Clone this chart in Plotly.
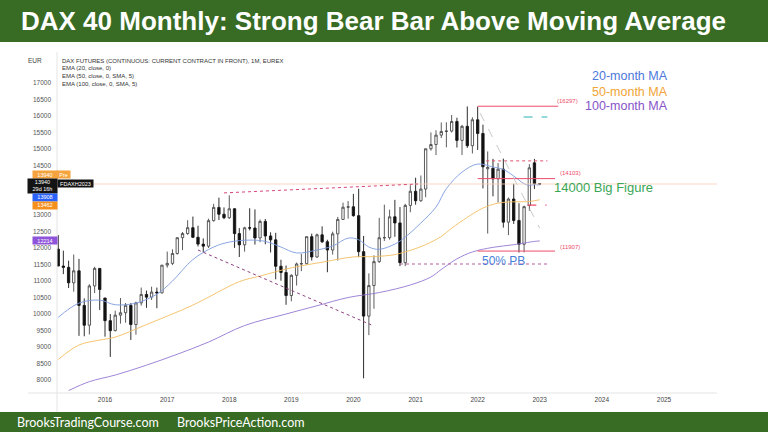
import pandas as pd
import plotly.graph_objects as go

# ---------------- data (monthly DAX futures) ----------------
months = pd.date_range("2015-04-01", "2023-01-01", freq="MS")

opens = [11966, 11454, 11414, 10945, 11309, 10259, 9660, 10850, 11382,
         10485, 9798, 9495, 9965, 10039, 10263, 9680, 10337, 10593, 10511, 10665, 10640,
         11481, 11535, 11834, 12313, 12438, 12615, 12325, 12118, 12056, 12829, 13230, 13024,
         12918, 13189, 12436, 12097, 12612, 12605, 12306, 12806, 12364, 12247, 11447, 11257,
         10559, 11173, 11516, 11526, 12344, 11727, 12399, 12189, 11939, 12428, 12866, 13236,
         13249, 12981, 11890, 9936, 10862, 11587, 12311, 12313, 12945, 12760, 11556, 13291,
         13719, 13433, 13786, 15008, 15136, 15421, 15531, 15544, 15835, 15261, 15688, 15100,
         15885, 15471, 14400, 14415, 14098, 14388, 12784, 13484, 12835, 12114, 13290, 14580,
         13945]
highs = [12391, 11920, 11617, 11802, 11670, 10473, 10902, 11430, 11384,
         10486, 9998, 10100, 10486, 10334, 10332, 10372, 10802, 10710, 10827, 10801, 11481,
         11893, 11960, 12313, 12486, 12842, 12952, 12675, 12291, 12889, 13340, 13525, 13229,
         13597, 13204, 12603, 12643, 13204, 13170, 12862, 12878, 12475, 12460, 11644, 11467,
         11205, 11557, 11823, 12344, 12435, 12438, 12656, 12250, 12494, 12942, 13374, 13425,
         13640, 13795, 12368, 11231, 11778, 12913, 13314, 13161, 13460, 13241, 13339, 13903,
         14131, 14197, 15008, 15502, 15568, 15803, 15810, 16030, 15948, 15730, 16290, 15961,
         16285, 15737, 14926, 14700, 14575, 14709, 13529, 13948, 13358, 13283, 14540, 14700,
         13965]
lows = [11453, 11209, 10787, 10677, 9338, 9325, 9379, 10636, 10123,
        9314, 8699, 9474, 9707, 9737, 9214, 9374, 10254, 10188, 10425, 10175, 10622,
        11405, 11483, 11800, 11936, 12400, 12300, 12046, 11868, 12000, 12800, 12848, 12874,
        12880, 12003, 11727, 11888, 12533, 12104, 12177, 12113, 11865, 11051, 11009, 10279,
        10386, 10863, 11299, 11500, 11620, 11700, 12152, 11266, 11800, 11620, 12850, 12888,
        12948, 11725, 8050, 9359, 10160, 11550, 12211, 12253, 12340, 11451, 11450, 13083,
        13311, 13400, 13541, 14950, 14817, 15333, 15051, 15500, 15046, 14819, 15035, 14865,
        14971, 13807, 12438, 13567, 13380, 12618, 12391, 12730, 11863, 11869, 13130, 13790,
        13925]
closes = [11454, 11414, 10945, 11309, 10259, 9660, 10850, 11382, 10743,
          9798, 9495, 9965, 10039, 10263, 9680, 10337, 10593, 10511, 10665, 10640, 11481,
          11535, 11834, 12313, 12438, 12615, 12325, 12118, 12056, 12829, 13230, 13024, 12918,
          13189, 12436, 12097, 12612, 12605, 12306, 12806, 12364, 12247, 11447, 11257, 10559,
          11173, 11516, 11526, 12344, 11727, 12399, 12189, 11939, 12428, 12866, 13236, 13249,
          12981, 11890, 9936, 10862, 11587, 12311, 12313, 12945, 12760, 11556, 13291, 13719,
          13433, 13786, 15008, 15136, 15421, 15531, 15544, 15835, 15261, 15688, 15100, 15885,
          15471, 14461, 14440, 14098, 14388, 12784, 13484, 12835, 12114, 13253, 14430, 13950,
          13940]

# moving averages
ema20_dates = ["2015-04-01", "2015-08-01", "2015-12-01", "2016-03-01", "2016-07-01", "2016-11-01",
               "2017-02-01", "2017-06-01", "2017-10-01", "2018-01-01", "2018-05-01", "2018-08-01",
               "2018-11-01", "2019-02-01", "2019-06-01", "2019-09-01", "2019-12-01", "2020-02-01",
               "2020-04-01", "2020-06-01", "2020-09-01", "2020-11-01", "2021-02-01", "2021-05-01",
               "2021-07-01", "2021-10-01", "2022-01-01", "2022-04-01", "2022-06-01", "2022-08-01",
               "2022-10-01", "2022-11-01", "2022-12-01", "2023-01-01"]
ema20_vals = [9900, 10330, 10420, 10280, 10330, 10600,
              11000, 11650, 12030, 12180, 12240, 12200,
              12030, 11850, 11940, 12060, 12300, 12250,
              12030, 11960, 12120, 12330, 12760, 13240,
              13800, 14300, 14545, 14455, 14380, 14180,
              13950, 13900, 13920, 13908]

ema50_dates = ["2015-04-01", "2015-08-01", "2015-12-01", "2016-03-01", "2016-09-01", "2017-06-01",
               "2018-03-01", "2018-07-01", "2019-01-01", "2019-07-01", "2020-01-01", "2020-05-01",
               "2020-09-01", "2020-12-01", "2021-03-01", "2021-06-01", "2021-08-01", "2021-11-01",
               "2022-02-01", "2022-05-01", "2022-08-01", "2022-11-01", "2023-01-01"]
ema50_vals = [8620, 9060, 9210, 9300, 9680, 10270,
              10980, 11150, 11400, 11570, 11730, 11740,
              11800, 11930, 12100, 12350, 12600, 12930,
              13210, 13360, 13400, 13410, 13462]

ema100_dates = ["2015-06-01", "2015-10-01", "2016-03-01", "2016-09-01", "2017-03-01", "2017-09-01",
                "2018-04-01", "2018-12-01", "2019-06-01", "2019-12-01", "2020-06-01", "2020-12-01",
                "2021-04-01", "2021-06-01", "2021-09-01", "2021-12-01", "2022-04-01", "2022-08-01",
                "2022-12-01", "2023-01-01"]
ema100_vals = [7680, 7950, 8150, 8450, 8780, 9150,
               9650, 10000, 10250, 10500, 10650, 10880,
               11120, 11350, 11670, 11880, 12020, 12100,
               12200, 12214]

year_ticks = [str(y) for y in range(2016, 2026)]
price_ticks = list(range(8000, 17001, 500))
hidden_price_ticks = [13500, 14000]   # covered by the price badges in the original

# ---------------- layout helpers ----------------
W, H = 768, 432
L, R, T, B = 57, 717, 45, 393
PXDAY = (664 - 105) / (pd.Timestamp("2025-01-01") - pd.Timestamp("2016-01-01")).days
x_start = pd.Timestamp("2016-01-01") - pd.Timedelta(days=(105 - L) / PXDAY)
x_end = pd.Timestamp("2016-01-01") + pd.Timedelta(days=(R - 105) / PXDAY)


def px(x):
    return (x - L) / (R - L)


def py(y):
    return (B - y) / (B - T)


GREEN = "#386b23"
RED = "#ee4b6a"

fig = go.Figure()

fig.add_trace(go.Candlestick(
    x=months, open=opens, high=highs, low=lows, close=closes,
    increasing=dict(line=dict(color="#4a4a4a", width=0.9), fillcolor="#ffffff"),
    decreasing=dict(line=dict(color="#151515", width=0.9), fillcolor="#111111"),
    showlegend=False, hoverinfo="skip",
))

fig.add_trace(go.Scatter(x=ema100_dates, y=ema100_vals, mode="lines",
                         line=dict(color="#9477d2", width=0.9, shape="spline"), showlegend=False, hoverinfo="skip"))
fig.add_trace(go.Scatter(x=ema50_dates, y=ema50_vals, mode="lines",
                         line=dict(color="#f4bd62", width=0.9, shape="spline"), showlegend=False, hoverinfo="skip"))
fig.add_trace(go.Scatter(x=ema20_dates, y=ema20_vals, mode="lines",
                         line=dict(color="#7d9be0", width=0.9, shape="spline"), showlegend=False, hoverinfo="skip"))

shapes = []
# title & footer bands
shapes.append(dict(type="rect", xref="paper", yref="paper", x0=px(0), x1=px(W), y0=py(42), y1=py(0),
                   fillcolor=GREEN, line=dict(width=0), layer="above"))
shapes.append(dict(type="rect", xref="paper", yref="paper", x0=px(0), x1=px(W), y0=py(H), y1=py(412),
                   fillcolor=GREEN, line=dict(width=0), layer="above"))
# axis frame lines
shapes.append(dict(type="line", xref="paper", yref="paper", x0=px(28), x1=1, y0=0, y1=0,
                   line=dict(color="#e4e4e4", width=1)))
shapes.append(dict(type="line", xref="paper", yref="paper", x0=0, x1=0, y0=py(412), y1=py(52),
                   line=dict(color="#e4e4e4", width=1)))

# chart annotation lines (data coordinates)
def dline(x0, y0, x1, y1, color, dash="solid", width=1):
    shapes.append(dict(type="line", xref="x", yref="y", x0=x0, y0=y0, x1=x1, y1=y1,
                       line=dict(color=color, width=width, dash=dash)))

dline(x_start, 13940, x_end, 13940, "#f6cdb6", "solid", 0.8)       # last price line
dline("2017-12-01", 13670, "2021-01-15", 13940, "#d9457a", "dot")  # highs trend line
dline("2017-07-01", 11940, "2020-04-15", 9670, "#8e3f7f", "dot")   # descending line
dline("2020-10-01", 11515, "2023-02-15", 11515, "#b55f9b", "dot")  # Oct 2020 low
dline("2022-01-01", 16297, "2023-04-20", 16297, RED)               # 16297
dline("2022-01-01", 14103, "2023-04-01", 14103, RED)               # 14103
dline("2022-01-01", 11907, "2023-04-01", 11907, RED)               # 11907
dline("2022-02-20", 14640, "2023-02-15", 14640, "#e0506e", "dot")  # Dec high
dline("2022-09-28", 15970, "2023-02-15", 15970, "#2bb3b3", "dash", 1.2)
dline("2022-10-20", 13300, "2023-02-10", 13300, RED, "dash", 1.2)
dline("2022-01-15", 16090, "2023-01-01", 12600, "#c8c8c8", "dash")

annotations = []


def ann(text, x, y, size, color, xanchor="center", family="Liberation Sans, Arial", **kw):
    annotations.append(dict(text=text, x=px(x), y=py(y), xref="paper", yref="paper",
                            xanchor=xanchor, yanchor="middle", showarrow=False,
                            font=dict(size=size, color=color, family=family), **kw))


ann("<b>DAX 40 Monthly: Strong Bear Bar Above Moving Average</b>", 19, 21, 26, "white", "left")
ann("BrooksTradingCourse.com", 15, 422, 12.5, "white", "left", family="Lato")
ann("BrooksPriceAction.com", 175, 422, 12.5, "white", "left", family="Lato")

ann("DAX FUTURES (CONTINUOUS: CURRENT CONTRACT IN FRONT), 1M, EUREX", 60, 61, 6, "#333333", "left")
ann("EMA (20, close, 0)", 60, 68.5, 6, "#333333", "left")
ann("EMA (50, close, 0, SMA, 5)", 60, 76, 6, "#333333", "left")
ann("EMA (100, close, 0, SMA, 5)", 60, 83.5, 6, "#333333", "left")
ann("EUR", 35, 60, 6.5, "#444444")

ann("20-month MA", 590, 76, 12.5, "#4b78da", "left")
ann("50-month MA", 590, 92, 12.5, "#f2a436", "left")
ann("100-month MA", 583, 106, 12.5, "#8753c9", "left")
ann("(16297)", 567, 101, 6, RED)
ann("(14103)", 570, 173, 6, RED)
ann("(11907)", 570, 247, 6, RED)
ann("14000 Big Figure", 552, 187, 13, "#3aa655", "left")
ann("50% PB", 503, 261, 12, "#4a7fd8")


def badge(text, x0, x1, y0, y1, bg, size=5.5):
    annotations.append(dict(text=text, x=px((x0 + x1) / 2), y=py((y0 + y1) / 2), xref="paper", yref="paper",
                            xanchor="center", yanchor="middle", showarrow=False,
                            width=x1 - x0, height=y1 - y0, bgcolor=bg, borderpad=0,
                            font=dict(size=size, color="white", family="Liberation Sans, Arial")))


badge("13940", 33, 57, 171, 178, "#f5a33c")
badge("Pre", 57, 70, 171, 178, "#f5a33c")
badge("13940<br>29d 16h", 28, 57, 179.5, 193, "#141414")
badge("FDAXH2023", 58, 93, 179.5, 186.5, "#141414")
badge("13908", 33, 57, 194.5, 201, "#2962ff")
badge("13462", 33, 57, 202, 208.5, "#f58f1d")
badge("12214", 33, 57, 237, 244, "#8e54d9")

fig.update_layout(
    width=W, height=H,
    margin=dict(l=L, r=W - R, t=T, b=H - B),
    paper_bgcolor="white", plot_bgcolor="white",
    shapes=shapes, annotations=annotations,
    showlegend=False,
    xaxis=dict(type="date", range=[x_start, x_end], rangeslider=dict(visible=False),
               showgrid=False, zeroline=False, showline=False, ticks="",
               tickvals=[f"{y}-01-01" for y in year_ticks], ticktext=year_ticks,
               tickfont=dict(size=6.5, color="#444444", family="Liberation Sans, Arial"),
               ticklabelstandoff=1),
    yaxis=dict(range=[7606, 18152], showgrid=False, zeroline=False, showline=False, ticks="",
               tickvals=price_ticks,
               ticktext=["" if v in hidden_price_ticks else str(v) for v in price_ticks],
               tickfont=dict(size=6.5, color="#555555", family="Liberation Sans, Arial"),
               ticklabelstandoff=5),
)

fig.write_html("out.html")
